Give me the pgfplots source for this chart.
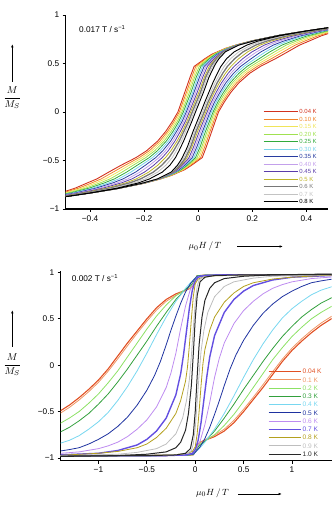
\documentclass[border=0pt]{standalone}
\usepackage{fontspec}
\setmainfont{Liberation Sans}
\usepackage{pgfplots}
\pgfplotsset{compat=1.18}
\usepackage{pgfplotstable}
\usetikzlibrary{arrows.meta}

\definecolor{t1}{RGB}{210,50,30}
\definecolor{t2}{RGB}{240,130,40}
\definecolor{t3}{RGB}{240,228,90}
\definecolor{t4}{RGB}{160,225,80}
\definecolor{t5}{RGB}{50,170,60}
\definecolor{t6}{RGB}{120,210,235}
\definecolor{t7}{RGB}{40,60,160}
\definecolor{t8}{RGB}{195,160,235}
\definecolor{t9}{RGB}{90,60,170}
\definecolor{t10}{RGB}{190,180,40}
\definecolor{t11}{RGB}{120,120,120}
\definecolor{t12}{RGB}{195,195,195}
\definecolor{t13}{RGB}{0,0,0}

\definecolor{b1}{RGB}{225,80,35}
\definecolor{b2}{RGB}{240,150,100}
\definecolor{b3}{RGB}{140,225,100}
\definecolor{b4}{RGB}{50,160,60}
\definecolor{b5}{RGB}{120,215,240}
\definecolor{b6}{RGB}{30,50,160}
\definecolor{b7}{RGB}{190,140,240}
\definecolor{b8}{RGB}{100,80,225}
\definecolor{b9}{RGB}{180,160,30}
\definecolor{b10}{RGB}{190,190,190}
\definecolor{b11}{RGB}{40,40,40}

% top panel: increasing-field branches, x for each temperature at given M/Ms
\pgfplotstableread{
y a b c d e f g h i j k l m
-0.875 -0.50 -0.50 -0.50 -0.50 -0.50 -0.50 -0.50 -0.50 -0.50 -0.50 -0.50 -0.50 -0.50
-0.835 -0.40 -0.40 -0.40 -0.40 -0.40 -0.40 -0.40 -0.40 -0.40 -0.40 -0.40 -0.40 -0.40
-0.79 -0.30 -0.30 -0.30 -0.30 -0.30 -0.30 -0.30 -0.30 -0.30 -0.30 -0.30 -0.30 -0.30
-0.735 -0.200 -0.201 -0.201 -0.202 -0.203 -0.203 -0.204 -0.205 -0.205 -0.206 -0.207 -0.207 -0.208
-0.69 -0.139 -0.140 -0.141 -0.142 -0.143 -0.144 -0.145 -0.145 -0.146 -0.147 -0.148 -0.149 -0.150
-0.655 -0.100 -0.102 -0.104 -0.106 -0.108 -0.110 -0.113 -0.115 -0.117 -0.119 -0.121 -0.123 -0.125
-0.62 -0.071 -0.073 -0.076 -0.078 -0.081 -0.083 -0.086 -0.088 -0.090 -0.093 -0.095 -0.098 -0.100
-0.595 -0.050 -0.054 -0.057 -0.061 -0.064 -0.068 -0.071 -0.075 -0.078 -0.082 -0.085 -0.089 -0.092
-0.55 -0.025 -0.029 -0.034 -0.038 -0.042 -0.047 -0.051 -0.055 -0.060 -0.064 -0.068 -0.073 -0.077
-0.50 0.000 -0.005 -0.011 -0.016 -0.022 -0.027 -0.033 -0.038 -0.043 -0.049 -0.054 -0.060 -0.065
-0.47 0.015 0.009 0.003 -0.004 -0.010 -0.016 -0.022 -0.028 -0.034 -0.041 -0.047 -0.053 -0.059
-0.36 0.030 0.024 0.018 0.013 0.007 0.001 -0.005 -0.011 -0.017 -0.023 -0.028 -0.034 -0.040
-0.20 0.050 0.044 0.039 0.033 0.027 0.021 0.016 0.010 0.004 -0.002 -0.008 -0.013 -0.019
0.00 0.075 0.070 0.065 0.060 0.055 0.049 0.044 0.039 0.033 0.028 0.022 0.016 0.010
0.10 0.096 0.090 0.084 0.078 0.072 0.066 0.060 0.054 0.048 0.042 0.036 0.030 0.024
0.20 0.120 0.113 0.107 0.100 0.093 0.086 0.080 0.073 0.066 0.059 0.053 0.046 0.039
0.30 0.150 0.142 0.134 0.126 0.118 0.110 0.102 0.094 0.086 0.078 0.070 0.062 0.054
0.40 0.191 0.181 0.171 0.161 0.151 0.141 0.131 0.121 0.111 0.101 0.091 0.081 0.071
0.47 0.230 0.218 0.206 0.194 0.181 0.169 0.157 0.145 0.133 0.121 0.108 0.096 0.084
0.55 0.286 0.271 0.256 0.241 0.226 0.211 0.196 0.180 0.165 0.150 0.135 0.120 0.105
0.62 0.331 0.315 0.298 0.282 0.265 0.249 0.232 0.216 0.199 0.183 0.166 0.150 0.133
0.69 0.375 0.359 0.343 0.326 0.310 0.294 0.278 0.261 0.245 0.229 0.213 0.196 0.180
0.73 0.409 0.393 0.378 0.362 0.346 0.330 0.315 0.299 0.283 0.267 0.252 0.236 0.220
0.785 0.455 0.442 0.429 0.416 0.403 0.390 0.378 0.365 0.352 0.339 0.326 0.313 0.300
0.835 0.510 0.501 0.492 0.483 0.473 0.464 0.455 0.446 0.437 0.428 0.418 0.409 0.400
0.87 0.580 0.572 0.563 0.555 0.547 0.538 0.530 0.522 0.513 0.505 0.497 0.488 0.480
0.885 0.660 0.652 0.643 0.635 0.627 0.618 0.610 0.602 0.593 0.585 0.577 0.568 0.560
}\toptab

% bottom panel: increasing-field branches
\pgfplotstableread[row sep=\\]{x y\\ -1.45 -0.975\\ -0.5 -0.975\\ -0.1 -0.972\\ -0.02 -0.965\\ 0.0 -0.93\\ 0.02 -0.86\\ 0.05 -0.83\\ 0.1 -0.81\\ 0.2 -0.77\\ 0.3 -0.71\\ 0.4 -0.62\\ 0.5 -0.50\\ 0.6 -0.37\\ 0.7 -0.24\\ 0.8 -0.10\\ 0.9 0.04\\ 1.0 0.16\\ 1.1 0.26\\ 1.2 0.35\\ 1.3 0.43\\ 1.45 0.53\\}\bA
\pgfplotstableread[row sep=\\]{x y\\ -1.45 -0.975\\ -0.5 -0.975\\ -0.1 -0.972\\ -0.02 -0.965\\ 0.0 -0.93\\ 0.02 -0.865\\ 0.05 -0.835\\ 0.1 -0.805\\ 0.2 -0.755\\ 0.3 -0.69\\ 0.4 -0.595\\ 0.5 -0.475\\ 0.6 -0.345\\ 0.7 -0.21\\ 0.8 -0.07\\ 0.9 0.065\\ 1.0 0.185\\ 1.1 0.285\\ 1.2 0.375\\ 1.3 0.455\\ 1.45 0.555\\}\bB
\pgfplotstableread[row sep=\\]{x y\\ -1.45 -0.975\\ -0.4 -0.975\\ -0.1 -0.972\\ -0.02 -0.965\\ 0.0 -0.935\\ 0.02 -0.875\\ 0.05 -0.85\\ 0.1 -0.82\\ 0.2 -0.75\\ 0.3 -0.65\\ 0.4 -0.53\\ 0.5 -0.39\\ 0.6 -0.24\\ 0.7 -0.09\\ 0.8 0.06\\ 0.9 0.19\\ 1.0 0.31\\ 1.1 0.41\\ 1.2 0.50\\ 1.3 0.57\\ 1.45 0.66\\}\bC
\pgfplotstableread[row sep=\\]{x y\\ -1.45 -0.975\\ -0.4 -0.975\\ -0.1 -0.972\\ -0.02 -0.965\\ 0.0 -0.935\\ 0.03 -0.88\\ 0.1 -0.82\\ 0.2 -0.71\\ 0.3 -0.57\\ 0.4 -0.42\\ 0.5 -0.26\\ 0.6 -0.11\\ 0.7 0.04\\ 0.8 0.18\\ 0.9 0.31\\ 1.0 0.42\\ 1.1 0.52\\ 1.2 0.60\\ 1.3 0.67\\ 1.45 0.75\\}\bD
\pgfplotstableread[row sep=\\]{x y\\ -1.45 -0.975\\ -0.3 -0.975\\ -0.1 -0.97\\ -0.02 -0.96\\ 0.0 -0.94\\ 0.05 -0.89\\ 0.1 -0.83\\ 0.2 -0.69\\ 0.3 -0.52\\ 0.4 -0.33\\ 0.5 -0.13\\ 0.6 0.06\\ 0.7 0.23\\ 0.8 0.38\\ 0.9 0.51\\ 1.0 0.61\\ 1.1 0.69\\ 1.2 0.76\\ 1.3 0.81\\ 1.45 0.86\\}\bE
\pgfplotstableread[row sep=\\]{x y\\ -1.45 -0.975\\ -0.3 -0.975\\ -0.1 -0.97\\ -0.02 -0.96\\ 0.0 -0.94\\ 0.05 -0.88\\ 0.1 -0.79\\ 0.15 -0.67\\ 0.2 -0.53\\ 0.25 -0.38\\ 0.3 -0.22\\ 0.36 -0.04\\ 0.42 0.11\\ 0.5 0.27\\ 0.6 0.43\\ 0.7 0.56\\ 0.8 0.66\\ 0.9 0.74\\ 1.0 0.80\\ 1.1 0.85\\ 1.2 0.89\\ 1.3 0.91\\ 1.45 0.935\\}\bF
\pgfplotstableread[row sep=\\]{x y\\ -1.45 -0.975\\ -0.3 -0.975\\ -0.1 -0.97\\ -0.03 -0.955\\ 0.0 -0.92\\ 0.05 -0.82\\ 0.1 -0.64\\ 0.15 -0.40\\ 0.2 -0.13\\ 0.25 0.08\\ 0.3 0.24\\ 0.4 0.45\\ 0.5 0.59\\ 0.6 0.69\\ 0.7 0.77\\ 0.8 0.83\\ 0.9 0.87\\ 1.0 0.90\\ 1.2 0.935\\ 1.45 0.955\\}\bG
\pgfplotstableread[row sep=\\]{x y\\ -1.45 -0.975\\ -0.3 -0.975\\ -0.1 -0.968\\ -0.03 -0.95\\ 0.0 -0.91\\ 0.03 -0.81\\ 0.06 -0.62\\ 0.09 -0.37\\ 0.12 -0.12\\ 0.15 0.09\\ 0.2 0.32\\ 0.3 0.57\\ 0.4 0.71\\ 0.5 0.80\\ 0.6 0.86\\ 0.8 0.92\\ 1.0 0.95\\ 1.45 0.97\\}\bH
\pgfplotstableread[row sep=\\]{x y\\ -1.45 -0.975\\ -0.5 -0.972\\ -0.2 -0.965\\ -0.08 -0.95\\ -0.03 -0.93\\ 0.0 -0.88\\ 0.02 -0.74\\ 0.04 -0.50\\ 0.06 -0.22\\ 0.08 0.02\\ 0.1 0.17\\ 0.15 0.38\\ 0.2 0.52\\ 0.3 0.68\\ 0.4 0.78\\ 0.5 0.85\\ 0.6 0.89\\ 0.8 0.93\\ 1.0 0.95\\ 1.45 0.975\\}\bI
\pgfplotstableread[row sep=\\]{x y\\ -1.45 -0.975\\ -0.5 -0.972\\ -0.2 -0.965\\ -0.08 -0.95\\ -0.04 -0.92\\ -0.02 -0.85\\ 0.0 -0.68\\ 0.02 -0.40\\ 0.04 -0.10\\ 0.06 0.15\\ 0.09 0.38\\ 0.13 0.57\\ 0.2 0.74\\ 0.3 0.85\\ 0.4 0.90\\ 0.6 0.94\\ 0.8 0.96\\ 1.45 0.98\\}\bJ
\pgfplotstableread[row sep=\\]{x y\\ -1.45 -0.98\\ -0.5 -0.975\\ -0.2 -0.968\\ -0.1 -0.95\\ -0.05 -0.90\\ -0.02 -0.75\\ 0.0 -0.50\\ 0.02 -0.12\\ 0.04 0.22\\ 0.07 0.52\\ 0.1 0.70\\ 0.15 0.83\\ 0.2 0.89\\ 0.3 0.935\\ 0.5 0.96\\ 0.8 0.975\\ 1.45 0.985\\}\bK

\pgfplotsset{
  mystyle/.style={
    scale only axis,
    axis x line*=bottom, axis y line*=left,
    axis line style={line width=1.1bp},
    tick align=outside,
    major tick length=3bp,
    tick style={line width=0.8bp, black},
    ticklabel style={font=\fontsize{8.3}{9}\selectfont},
    legend cell align=left,
    every axis plot/.append style={line width=0.8bp},
    ytick={-1,-0.5,0,0.5,1},
    yticklabels={−1,−0.5,0,0.5,1},
  },
}

\begin{document}
\begin{tikzpicture}
\useasboundingbox (0bp,0bp) rectangle (333bp,510bp);

% ---------------- top panel ----------------
\begin{axis}[mystyle,
  at={(65.7bp,301bp)}, anchor=south west,
  width=262.3bp, height=194bp,
  xmin=-0.49, xmax=0.48, ymin=-1, ymax=1,
  xtick={-0.4,-0.2,0,0.2,0.4},
  xticklabels={−0.4,−0.2,0,0.2,0.4},
  legend image code/.code={\draw[#1] (0bp,0.3bp) -- (34bp,0.3bp);},
  legend style={draw=none, fill=none, at={(0.752,0.513)}, anchor=north west,
    font=\fontsize{6}{6}\selectfont, row sep=2.7bp, inner sep=0pt, outer sep=0pt,
    nodes={inner sep=0pt, text height=4.3bp, text depth=0.5bp}, column sep=1.2bp},
]
\addplot[t1, line width=0.9bp] table[x=a, y=y]{\toptab}; \addlegendentry{\textcolor{t1}{0.04 K}}
\addplot[t1, line width=0.9bp, forget plot] table[x expr=-\thisrow{a}, y expr=-\thisrow{y}]{\toptab};
\addplot[t2] table[x=b, y=y]{\toptab}; \addlegendentry{\textcolor{t2}{0.10 K}}
\addplot[t2, forget plot] table[x expr=-\thisrow{b}, y expr=-\thisrow{y}]{\toptab};
\addplot[t3] table[x=c, y=y]{\toptab}; \addlegendentry{\textcolor{t3}{0.15 K}}
\addplot[t3, forget plot] table[x expr=-\thisrow{c}, y expr=-\thisrow{y}]{\toptab};
\addplot[t4] table[x=d, y=y]{\toptab}; \addlegendentry{\textcolor{t4}{0.20 K}}
\addplot[t4, forget plot] table[x expr=-\thisrow{d}, y expr=-\thisrow{y}]{\toptab};
\addplot[t5] table[x=e, y=y]{\toptab}; \addlegendentry{\textcolor{t5}{0.25 K}}
\addplot[t5, forget plot] table[x expr=-\thisrow{e}, y expr=-\thisrow{y}]{\toptab};
\addplot[t6] table[x=f, y=y]{\toptab}; \addlegendentry{\textcolor{t6}{0.30 K}}
\addplot[t6, forget plot] table[x expr=-\thisrow{f}, y expr=-\thisrow{y}]{\toptab};
\addplot[t7] table[x=g, y=y]{\toptab}; \addlegendentry{\textcolor{t7}{0.35 K}}
\addplot[t7, forget plot] table[x expr=-\thisrow{g}, y expr=-\thisrow{y}]{\toptab};
\addplot[t8] table[x=h, y=y]{\toptab}; \addlegendentry{\textcolor{t8}{0.40 K}}
\addplot[t8, forget plot] table[x expr=-\thisrow{h}, y expr=-\thisrow{y}]{\toptab};
\addplot[t9] table[x=i, y=y]{\toptab}; \addlegendentry{\textcolor{t9}{0.45 K}}
\addplot[t9, forget plot] table[x expr=-\thisrow{i}, y expr=-\thisrow{y}]{\toptab};
\addplot[t10] table[x=j, y=y]{\toptab}; \addlegendentry{\textcolor{t10}{0.5 K}}
\addplot[t10, forget plot] table[x expr=-\thisrow{j}, y expr=-\thisrow{y}]{\toptab};
\addplot[t11, line width=1.3bp] table[x=k, y=y]{\toptab}; \addlegendentry{\textcolor{t11}{0.6 K}}
\addplot[t11, line width=1.3bp, forget plot] table[x expr=-\thisrow{k}, y expr=-\thisrow{y}]{\toptab};
\addplot[t12] table[x=l, y=y]{\toptab}; \addlegendentry{\textcolor{t12}{0.7 K}}
\addplot[t12, forget plot] table[x expr=-\thisrow{l}, y expr=-\thisrow{y}]{\toptab};
\addplot[t13, line width=0.9bp] table[x=m, y=y]{\toptab}; \addlegendentry{\textcolor{t13}{0.8 K}}
\addplot[t13, line width=0.9bp, forget plot] table[x expr=-\thisrow{m}, y expr=-\thisrow{y}]{\toptab};
\end{axis}

% ---------------- bottom panel ----------------
\begin{axis}[mystyle,
  at={(60.7bp,49.3bp)}, anchor=south west,
  width=271bp, height=190bp,
  xmin=-1.39, xmax=1.41, ymin=-1.03, ymax=1.02,
  xtick={-1,-0.5,0,0.5,1},
  xticklabels={−1,−0.5,0,0.5,1},
  legend image code/.code={\draw[#1] (0bp,0.3bp) -- (32bp,0.3bp);},
  legend style={draw=none, fill=none, at={(0.765,0.48)}, anchor=north west,
    font=\fontsize{6.6}{7}\selectfont, row sep=3.45bp, inner sep=0pt, outer sep=0pt,
    nodes={inner sep=0pt, text height=4.3bp, text depth=0.5bp}, column sep=1.2bp},
]
\addplot[b1, line width=1.1bp] table[x=x, y=y]{\bA}; \addlegendentry{\textcolor{b1}{0.04 K}}
\addplot[b1, line width=1.1bp, forget plot] table[x expr=-\thisrow{x}, y expr=-\thisrow{y}]{\bA};
\addplot[b2] table[x=x, y=y]{\bB}; \addlegendentry{\textcolor{b2}{0.1 K}}
\addplot[b2, forget plot] table[x expr=-\thisrow{x}, y expr=-\thisrow{y}]{\bB};
\addplot[b3] table[x=x, y=y]{\bC}; \addlegendentry{\textcolor{b3}{0.2 K}}
\addplot[b3, forget plot] table[x expr=-\thisrow{x}, y expr=-\thisrow{y}]{\bC};
\addplot[b4] table[x=x, y=y]{\bD}; \addlegendentry{\textcolor{b4}{0.3 K}}
\addplot[b4, forget plot] table[x expr=-\thisrow{x}, y expr=-\thisrow{y}]{\bD};
\addplot[b5] table[x=x, y=y]{\bE}; \addlegendentry{\textcolor{b5}{0.4 K}}
\addplot[b5, forget plot] table[x expr=-\thisrow{x}, y expr=-\thisrow{y}]{\bE};
\addplot[b6] table[x=x, y=y]{\bF}; \addlegendentry{\textcolor{b6}{0.5 K}}
\addplot[b6, forget plot] table[x expr=-\thisrow{x}, y expr=-\thisrow{y}]{\bF};
\addplot[b7] table[x=x, y=y]{\bG}; \addlegendentry{\textcolor{b7}{0.6 K}}
\addplot[b7, forget plot] table[x expr=-\thisrow{x}, y expr=-\thisrow{y}]{\bG};
\addplot[b8, line width=1.4bp] table[x=x, y=y]{\bH}; \addlegendentry{\textcolor{b8}{0.7 K}}
\addplot[b8, line width=1.4bp, forget plot] table[x expr=-\thisrow{x}, y expr=-\thisrow{y}]{\bH};
\addplot[b9] table[x=x, y=y]{\bI}; \addlegendentry{\textcolor{b9}{0.8 K}}
\addplot[b9, forget plot] table[x expr=-\thisrow{x}, y expr=-\thisrow{y}]{\bI};
\addplot[b10] table[x=x, y=y]{\bJ}; \addlegendentry{\textcolor{b10}{0.9 K}}
\addplot[b10, forget plot] table[x expr=-\thisrow{x}, y expr=-\thisrow{y}]{\bJ};
\addplot[b11, line width=1.0bp] table[x=x, y=y]{\bK}; \addlegendentry{\textcolor{b11}{1.0 K}}
\addplot[b11, line width=1.0bp, forget plot] table[x expr=-\thisrow{x}, y expr=-\thisrow{y}]{\bK};
\end{axis}

% ---------------- labels ----------------
\node[anchor=west, font=\fontsize{8.3}{9}\selectfont, inner sep=0pt] at (79bp,481bp) {0.017 T / s\textsuperscript{−1}};
\node[anchor=west, font=\fontsize{8.3}{9}\selectfont, inner sep=0pt] at (71.7bp,231.7bp) {0.002 T / s\textsuperscript{−1}};

\draw[line width=0.8bp, -{Latex[length=3.5bp,width=2.6bp]}] (12.3bp,428bp) -- (12.3bp,466bp);
\node[font=\fontsize{10}{11}\selectfont, inner sep=0pt] at (12.3bp,412bp) {$\displaystyle\frac{M}{M_S}$};
\draw[line width=0.8bp, -{Latex[length=3.5bp,width=2.6bp]}] (12.3bp,163bp) -- (12.3bp,200bp);
\node[font=\fontsize{10}{11}\selectfont, inner sep=0pt] at (12.3bp,145bp) {$\displaystyle\frac{M}{M_S}$};

\node[font=\fontsize{9.5}{11}\selectfont, inner sep=0pt] at (205bp,263.5bp) {$\mu_0H\,/\,T$};
\draw[line width=0.8bp, -{Latex[length=3.5bp,width=2.6bp]}] (237bp,263.5bp) -- (283bp,263.5bp);
\node[font=\fontsize{9.5}{11}\selectfont, inner sep=0pt] at (212.5bp,17bp) {$\mu_0H\,/\,T$};
\draw[line width=0.8bp, -{Latex[length=3.5bp,width=2.6bp]}] (238bp,16bp) -- (282bp,16bp);
\end{tikzpicture}
\end{document}
